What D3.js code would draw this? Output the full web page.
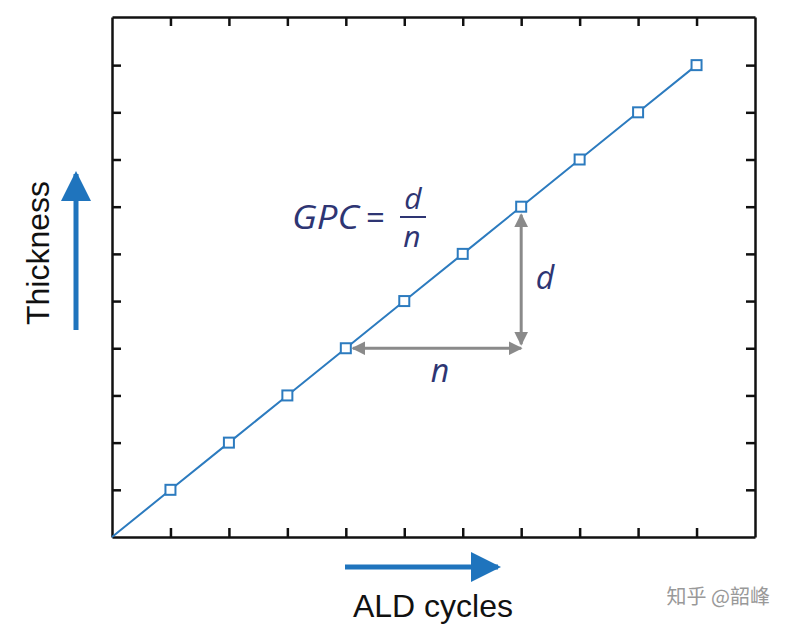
<!DOCTYPE html>
<html><head><meta charset="utf-8">
<script src="https://cdn.jsdelivr.net/npm/d3@7"></script>
<style>body{margin:0;background:#fff}</style></head>
<body><svg id="c" width="789" height="628"></svg>
<script>
const cycles=[0,1,2,3,4,5,6,7,8,9,10];
const thickness=[0,1,2,3,4,5,6,7,8,9,10];
const tickVals=[1,2,3,4,5,6,7,8,9,10];
const svg=d3.select("#c");
const L=112,R=755,T=17,B=537;
const x=d3.scaleLinear().domain([0,11]).range([L,R]);
const y=d3.scaleLinear().domain([0,11.02]).range([B,T]);
const blue="#2c7bbf";
const ax=[
 [d3.axisBottom(x),`translate(0,${B})`,tickVals],
 [d3.axisTop(x),`translate(0,${T})`,tickVals],
 [d3.axisLeft(y),`translate(${L},0)`,tickVals],
 [d3.axisRight(y),`translate(${R},0)`,tickVals]];
ax.forEach(([a,t,v])=>{
 const g=svg.append("g").attr("transform",t).call(a.tickValues(v).tickFormat("").tickSizeInner(-9).tickSizeOuter(0));
 g.select(".domain").attr("stroke","#111").attr("stroke-width",2.5);
 g.selectAll(".tick line").attr("stroke","#111").attr("stroke-width",2.5);
});
const pts=cycles.map((c,i)=>[c,thickness[i]]);
svg.append("path").datum(pts).attr("fill","none").attr("stroke",blue).attr("stroke-width",2)
 .attr("d",d3.line().x(d=>x(d[0])).y(d=>y(d[1])));
svg.selectAll("rect.m").data(pts.slice(1)).join("rect").attr("class","m")
 .attr("x",d=>x(d[0])-5).attr("y",d=>y(d[1])-5).attr("width",10).attr("height",10)
 .attr("fill","#fff").attr("stroke",blue).attr("stroke-width",2);
const defs=svg.append("defs");
function mk(id,col,s){defs.append("marker").attr("id",id).attr("viewBox","0 0 10 10").attr("refX",9).attr("refY",5)
 .attr("markerWidth",s).attr("markerHeight",s).attr("orient","auto-start-reverse").attr("markerUnits","userSpaceOnUse")
 .append("path").attr("d","M0,0L10,5L0,10z").attr("fill",col);}
mk("g","#8a8a8a",14);mk("b","#1f74bd",30);
const gray="#8a8a8a";
svg.append("line").attr("x1",x(4)+7).attr("y1",y(4)).attr("x2",x(7)).attr("y2",y(4))
 .attr("stroke",gray).attr("stroke-width",3).attr("marker-start","url(#g)").attr("marker-end","url(#g)");
svg.append("line").attr("x1",x(7)).attr("y1",y(7)+8).attr("x2",x(7)).attr("y2",y(4)-4)
 .attr("stroke",gray).attr("stroke-width",3).attr("marker-start","url(#g)").attr("marker-end","url(#g)");
const navy="#2e3573";
svg.append("text").attr("x",440).attr("y",382).attr("text-anchor","middle").attr("font-family","Open Sans").attr("font-style","italic").attr("font-size",32).attr("fill",navy).text("n");
svg.append("text").attr("x",545).attr("y",289).attr("text-anchor","middle").attr("font-family","Open Sans").attr("font-style","italic").attr("font-size",32).attr("fill",navy).text("d");
const f=svg.append("g").attr("font-family","Open Sans").attr("font-style","italic").attr("fill",navy);
f.append("text").attr("x",292).attr("y",229).attr("font-size",33).attr("textLength",67).attr("lengthAdjust","spacingAndGlyphs").text("GPC");
f.append("text").attr("x",366).attr("y",229).attr("font-size",33).attr("font-style","normal").text("=");
f.append("text").attr("x",413).attr("y",209).attr("text-anchor","middle").attr("font-size",30).text("d");
f.append("text").attr("x",412).attr("y",247).attr("text-anchor","middle").attr("font-size",30).text("n");
svg.append("line").attr("x1",400).attr("x2",426).attr("y1",217).attr("y2",217).attr("stroke",navy).attr("stroke-width",2);
svg.append("line").attr("x1",345).attr("y1",567).attr("x2",498).attr("y2",567).attr("stroke","#1f74bd").attr("stroke-width",5).attr("marker-end","url(#b)");
svg.append("line").attr("x1",76).attr("y1",330).attr("x2",76).attr("y2",174).attr("stroke","#1f74bd").attr("stroke-width",5).attr("marker-end","url(#b)");
svg.append("text").attr("x",433).attr("y",617).attr("text-anchor","middle").attr("font-family","Liberation Sans").attr("font-size",32).attr("fill","#111").text("ALD cycles");
svg.append("text").attr("transform","translate(49,253) rotate(-90)").attr("text-anchor","middle").attr("font-family","Liberation Sans").attr("font-size",32).attr("fill","#111").text("Thickness");
svg.append("text").attr("x",770).attr("y",604).attr("text-anchor","end").attr("font-family","Noto Sans CJK SC").attr("font-size",20).attr("fill","#999").text("知乎 @韶峰");
</script></body></html>
